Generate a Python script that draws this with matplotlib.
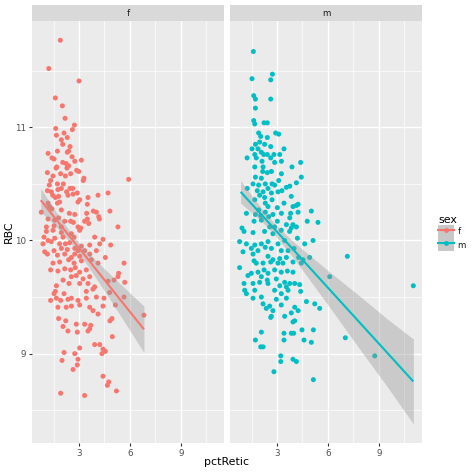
import numpy as np
import matplotlib
matplotlib.use("Agg")
import matplotlib.pyplot as plt
from matplotlib.lines import Line2D
from matplotlib.patches import Patch
from matplotlib.legend_handler import HandlerTuple

# ---------------- data ----------------
sex_levels = ["f", "m"]
colors = {"f": "#F8766D", "m": "#00BFC4"}

f_x = [1.90, 1.22, 3.00, 1.61, 2.02, 2.18, 2.73, 1.63, 2.61, 1.67, 2.12, 2.31, 1.96, 2.04, 2.47,
       2.39, 1.73, 1.18, 1.41, 2.31, 2.59, 1.53, 3.14, 2.75, 2.04, 2.24, 2.39, 1.69, 2.29, 1.65,
       2.86, 2.98, 1.14, 2.51, 1.92, 2.20, 1.47, 3.29, 3.25, 5.92, 1.33, 1.25, 1.73, 2.08, 2.47,
       2.63, 1.76, 1.96, 1.14, 1.37, 2.27, 2.35, 2.90, 2.65, 4.71, 4.12, 1.45, 1.80, 1.61, 3.53,
       2.94, 3.04, 1.86, 1.18, 1.73, 3.49, 1.27, 1.41, 1.96, 3.84, 4.02, 4.82, 0.78, 2.43, 2.75,
       3.45, 4.16, 4.20, 3.49, 1.80, 1.18, 1.57, 2.16, 2.51, 2.67, 3.33, 3.57, 5.29, 1.08, 1.53,
       1.96, 2.94, 3.10,
       1.08, 1.47, 1.96, 2.55, 3.04, 0.94, 1.18, 1.57, 2.06, 2.71, 3.92, 4.41, 0.88, 1.37, 1.86,
       2.20, 2.45, 3.14, 3.63, 4.22, 0.98, 1.53, 1.96, 2.31, 2.75, 2.94, 3.33, 4.02, 4.86, 1.14,
       1.73, 2.16, 2.55, 2.75, 3.04, 3.63, 4.55, 1.47, 1.86, 2.39, 2.71, 3.14, 3.73, 4.12, 5.65,
       1.33, 1.76, 2.16, 2.51, 2.78, 3.04, 3.43, 2.06, 2.55, 2.84, 3.24, 3.63, 4.71, 5.06, 5.33,
       5.29, 5.69, 1.67, 2.41, 3.04, 3.53, 3.92, 1.61, 1.53, 2.12, 3.43, 3.82, 4.80, 1.33, 1.67,
       1.92, 2.35, 2.55, 2.94, 3.43, 4.02, 4.47, 5.65, 1.76, 2.25, 2.55, 3.04, 3.63, 3.82, 4.41,
       5.14, 4.12, 6.82, 1.80, 2.22, 2.84, 3.33, 3.69, 4.94, 4.82, 2.06, 3.63, 2.35, 2.90, 3.53,
       4.96, 3.92, 4.22, 4.41, 4.55, 2.12, 3.04, 2.75, 4.35, 2.00, 2.94, 2.90, 2.65, 4.41, 4.75,
       4.67, 5.20, 1.92, 3.33]
f_y = [11.77, 11.52, 11.41, 11.26, 11.19, 11.08, 11.02, 10.99, 10.98, 10.93, 10.95, 10.91, 10.89,
       10.85, 10.83, 10.79, 10.79, 10.77, 10.73, 10.78, 10.74, 10.72, 10.71, 10.70, 10.69, 10.68,
       10.66, 10.65, 10.64, 10.64, 10.62, 10.61, 10.60, 10.59, 10.59, 10.57, 10.57, 10.55, 10.53,
       10.54, 10.53, 10.49, 10.50, 10.50, 10.46, 10.46, 10.45, 10.46, 10.44, 10.43, 10.43, 10.40,
       10.42, 10.41, 10.42, 10.40, 10.40, 10.39, 10.38, 10.38, 10.34, 10.36, 10.34, 10.33, 10.33,
       10.32, 10.30, 10.28, 10.27, 10.26, 10.25, 10.26, 10.25, 10.24, 10.23, 10.24, 10.21, 10.19,
       10.19, 10.20, 10.19, 10.18, 10.17, 10.17, 10.16, 10.17, 10.15, 10.12, 10.12, 10.13, 10.12,
       10.12, 10.11,
       10.08, 10.09, 10.07, 10.06, 10.09, 10.03, 10.00, 10.02, 10.03, 10.03, 10.03, 10.01, 9.97,
       9.99, 9.97, 9.97, 9.98, 9.95, 9.96, 9.97, 9.90, 9.91, 9.93, 9.92, 9.93, 9.91, 9.91, 9.91,
       9.96, 9.88, 9.87, 9.88, 9.85, 9.88, 9.86, 9.88, 9.85, 9.80, 9.81, 9.83, 9.80, 9.82, 9.83,
       9.80, 9.80, 9.74, 9.73, 9.75, 9.74, 9.76, 9.72, 9.74, 9.65, 9.68, 9.69, 9.66, 9.68, 9.64,
       9.65, 9.71, 9.68, 9.63, 9.60, 9.62, 9.62, 9.62, 9.59, 9.55, 9.53, 9.53, 9.55, 9.57, 9.54,
       9.47, 9.49, 9.47, 9.48, 9.49, 9.47, 9.49, 9.50, 9.49, 9.50, 9.41, 9.41, 9.42, 9.43, 9.41,
       9.38, 9.42, 9.43, 9.35, 9.34, 9.31, 9.29, 9.26, 9.26, 9.25, 9.31, 9.29, 9.24, 9.22, 9.20,
       9.19, 9.20, 9.15, 9.08, 9.08, 9.04, 9.02, 9.01, 9.05, 9.00, 9.00, 8.94, 8.95, 8.90, 8.86,
       8.80, 8.75, 8.72, 8.67, 8.65, 8.63]

m_x = [1.61, 1.53, 2.73, 2.63, 1.63, 1.73, 2.63, 1.73, 1.63, 1.69, 2.24, 2.43, 2.92, 3.10, 1.92,
       2.04, 2.43, 1.98, 2.27, 1.73, 1.53, 1.88, 2.63, 3.41, 2.08, 2.22, 1.69, 2.43, 2.82, 3.16,
       1.24, 1.78, 2.63, 2.12, 3.26, 2.86, 4.39, 2.18, 1.69, 3.88, 2.16, 2.67, 2.43, 3.26, 4.43,
       1.73, 2.08, 3.10, 4.14, 2.71, 1.59, 2.31, 1.92, 2.86, 3.75, 3.55, 2.47, 1.25, 1.84, 2.18,
       3.06, 3.29, 2.67, 1.98, 2.27, 3.84, 1.69, 2.71, 3.41, 2.31, 2.47, 4.24, 4.14, 3.94, 3.02,
       1.92, 3.26, 5.02, 3.80, 4.24, 2.31, 1.20, 1.73, 2.04, 2.76, 2.51, 2.08, 3.02, 3.75, 1.65,
       4.78, 5.41, 0.94, 3.55, 3.94, 4.14, 3.84, 2.57, 2.86,
       1.06, 1.59, 2.27, 2.76, 3.25, 3.74, 0.80, 1.20, 1.69, 2.08, 2.47, 3.06, 3.45, 4.20, 4.63,
       5.12, 1.00, 1.49, 1.88, 2.31, 2.67, 3.25, 3.65, 4.00, 1.59, 2.47, 2.76, 3.16, 3.55, 4.27,
       4.53, 4.92, 7.14, 1.65, 1.78, 2.18, 2.63, 3.06, 3.35, 3.94, 4.43, 0.80, 1.49, 1.88, 2.24,
       2.47, 2.86, 3.25, 3.61, 3.94, 1.29, 2.08, 2.43, 2.96, 3.45, 3.75, 4.04, 1.06, 1.59, 1.98,
       2.47, 3.16, 3.55, 4.33, 6.10, 11.02, 1.10, 1.69, 2.86, 3.25, 3.65, 4.39, 1.20, 1.59, 2.08,
       2.96, 3.55, 4.73, 5.22, 5.51, 2.18, 2.57, 3.25, 4.04, 2.37, 2.76, 4.24, 3.84, 2.67, 3.45,
       2.63, 3.94, 4.04, 2.08, 3.41, 3.84, 3.98, 4.47, 5.14, 1.73, 3.41, 4.59, 5.02, 7.02, 2.04,
       2.18, 8.75, 3.22, 3.22, 3.94, 4.14, 2.82, 5.14]
m_y = [11.67, 11.43, 11.47, 11.42, 11.28, 11.25, 11.25, 11.17, 11.06, 11.03, 11.04, 11.04, 10.95,
       10.94, 10.95, 10.92, 10.91, 10.87, 10.85, 10.85, 10.81, 10.81, 10.83, 10.81, 10.78, 10.76,
       10.76, 10.76, 10.76, 10.76, 10.73, 10.73, 10.73, 10.70, 10.70, 10.69, 10.69, 10.65, 10.65,
       10.65, 10.61, 10.61, 10.60, 10.59, 10.56, 10.56, 10.55, 10.53, 10.51, 10.50, 10.50, 10.50,
       10.49, 10.49, 10.48, 10.47, 10.46, 10.46, 10.44, 10.43, 10.43, 10.44, 10.42, 10.40, 10.38,
       10.39, 10.36, 10.36, 10.33, 10.33, 10.30, 10.32, 10.31, 10.30, 10.29, 10.27, 10.24, 10.26,
       10.24, 10.25, 10.25, 10.24, 10.23, 10.22, 10.23, 10.21, 10.18, 10.17, 10.20, 10.17, 10.17,
       10.16, 10.11, 10.14, 10.14, 10.12, 10.11, 10.12, 10.12,
       10.08, 10.07, 10.08, 10.06, 10.09, 10.08, 9.99, 9.97, 9.96, 9.97, 9.99, 9.97, 10.00, 10.02,
       9.97, 10.00, 9.90, 9.93, 9.91, 9.94, 9.93, 9.91, 9.91, 9.93, 9.88, 9.86, 9.83, 9.84, 9.85,
       9.85, 9.83, 9.85, 9.86, 9.82, 9.80, 9.80, 9.81, 9.80, 9.80, 9.81, 9.80, 9.76, 9.71, 9.72,
       9.74, 9.71, 9.74, 9.72, 9.73, 9.72, 9.69, 9.68, 9.65, 9.66, 9.63, 9.62, 9.62, 9.62, 9.62,
       9.63, 9.62, 9.60, 9.59, 9.61, 9.68, 9.60, 9.56, 9.56, 9.56, 9.53, 9.56, 9.55, 9.53, 9.49,
       9.50, 9.48, 9.49, 9.46, 9.44, 9.40, 9.44, 9.42, 9.43, 9.41, 9.40, 9.38, 9.38, 9.36, 9.33,
       9.33, 9.32, 9.28, 9.29, 9.19, 9.18, 9.18, 9.18, 9.21, 9.21, 9.12, 9.12, 9.12, 9.10, 9.14,
       9.06, 9.06, 8.98, 8.98, 8.93, 8.95, 8.93, 8.84, 8.77]

# linear-fit line and 95% band, read at several x positions
f_fit_x = [0.75, 1.5, 2.0, 2.7, 3.5, 4.5, 5.5, 6.82]
f_fit_y = [10.356, 10.215, 10.121, 9.989, 9.839, 9.651, 9.463, 9.215]
f_fit_lo = [10.251, 10.145, 10.066, 9.944, 9.779, 9.553, 9.320, 9.010]
f_fit_hi = [10.461, 10.285, 10.176, 10.034, 9.899, 9.749, 9.606, 9.420]

m_fit_x = [0.86, 2.0, 2.8, 4.0, 6.0, 8.0, 9.5, 11.02]
m_fit_y = [10.430, 10.242, 10.110, 9.912, 9.582, 9.252, 9.005, 8.754]
m_fit_lo = [10.330, 10.182, 10.062, 9.840, 9.430, 9.012, 8.705, 8.379]
m_fit_hi = [10.530, 10.302, 10.158, 9.984, 9.734, 9.492, 9.305, 9.129]

x_ticks = [3, 6, 9]
y_ticks = [9, 10, 11]
x_label = "pctRetic"
y_label = "RBC"
legend_title = "sex"

panels = {
    "f": (f_x, f_y, f_fit_x, f_fit_y, f_fit_lo, f_fit_hi),
    "m": (m_x, m_y, m_fit_x, m_fit_y, m_fit_lo, m_fit_hi),
}

# ---------------- figure ----------------
W = H = 474
fig = plt.figure(figsize=(W / 100, H / 100), dpi=100)
plt.rcParams["font.family"] = ["DejaVu Sans"]

def fx(px):
    return px / W

def fy(py):
    return 1 - py / H

panel_left = {"f": 32, "m": 230}
panel_w = 192
top_px, bot_px = 21, 443
strip_top = 5

xlim = (0.235, 11.53)
ylim = (8.21, 11.94)

for lvl in sex_levels:
    xs, ys, fxv, fyv, flo, fhi = panels[lvl]
    L = panel_left[lvl]
    ax = fig.add_axes([fx(L), fy(bot_px), panel_w / W, (bot_px - top_px) / H])
    ax.set_facecolor("#EBEBEB")
    ax.set_xlim(*xlim)
    ax.set_ylim(*ylim)
    for s in ax.spines.values():
        s.set_visible(False)
    # grid
    for v in [1.5, 4.5, 7.5, 10.5]:
        ax.axvline(v, color="white", lw=0.5, zorder=0.5)
    for v in [8.5, 9.5, 10.5, 11.5]:
        ax.axhline(v, color="white", lw=0.5, zorder=0.5)
    for v in x_ticks:
        ax.axvline(v, color="white", lw=1.0, zorder=0.6)
    for v in y_ticks:
        ax.axhline(v, color="white", lw=1.0, zorder=0.6)

    ax.scatter(xs, ys, s=13, color=colors[lvl], edgecolors="none", zorder=2)
    ax.fill_between(fxv, flo, fhi, color="#999999", alpha=0.4, lw=0, zorder=3)
    ax.plot(fxv, fyv, color=colors[lvl], lw=1.5, zorder=4, solid_capstyle="butt")

    ax.set_xticks(x_ticks)
    ax.set_xticklabels([str(t) for t in x_ticks])
    ax.tick_params(axis="both", length=2.5, width=0.8, color="#333333",
                   labelsize=6.3, labelcolor="#4D4D4D", pad=2)
    if lvl == "f":
        ax.set_yticks(y_ticks)
        ax.set_yticklabels([str(t) for t in y_ticks])
    else:
        ax.set_yticks([])

    # strip
    sax = fig.add_axes([fx(L), fy(top_px), panel_w / W, (top_px - strip_top) / H])
    sax.set_facecolor("#D9D9D9")
    sax.set_xticks([])
    sax.set_yticks([])
    for s in sax.spines.values():
        s.set_visible(False)
    sax.text(0.5, 0.5, lvl, ha="center", va="center", fontsize=6.3,
             color="#1A1A1A", transform=sax.transAxes)

fig.text(fx(227), fy(462), x_label, ha="center", va="center", fontsize=7.9, color="black")
fig.text(fx(9), fy(232), y_label, ha="center", va="center", rotation=90,
         fontsize=7.9, color="black")

handles = []
for lvl in sex_levels:
    handles.append((Patch(facecolor="#C8C8C8", edgecolor="none"),
                    Line2D([], [], color=colors[lvl], lw=1.5, marker="o",
                           markersize=3.5, markeredgewidth=0)))
leg = fig.legend(handles, sex_levels, title=legend_title,
                 handler_map={tuple: HandlerTuple(ndivide=1, pad=0)},
                 loc="center left", bbox_to_anchor=(fx(438), fy(233)),
                 frameon=False, fontsize=6.3, title_fontsize=7.9,
                 handlelength=1.85, handleheight=1.85, handletextpad=0.35,
                 labelspacing=0.05, borderaxespad=0, borderpad=0)
leg._legend_box.align = "left"
for t in leg.get_texts():
    t.set_color("#1A1A1A")

fig.savefig("out.png", dpi=100, facecolor="white")
